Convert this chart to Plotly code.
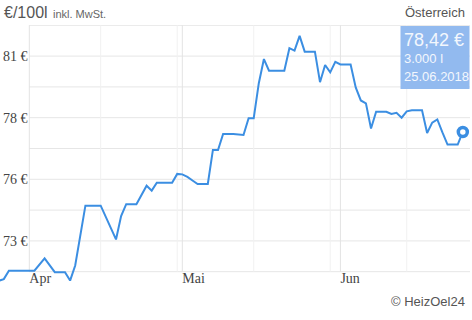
import plotly.graph_objects as go

# Data (€/100 l, Austria)
dates = ["2018-03-26", "2018-03-27", "2018-03-28", "2018-04-02", "2018-04-04",
         "2018-04-06", "2018-04-08", "2018-04-09", "2018-04-10", "2018-04-11",
         "2018-04-12", "2018-04-15", "2018-04-18", "2018-04-19", "2018-04-20",
         "2018-04-22", "2018-04-24", "2018-04-25", "2018-04-26", "2018-04-29",
         "2018-04-30", "2018-05-01", "2018-05-02", "2018-05-03", "2018-05-04",
         "2018-05-06", "2018-05-07", "2018-05-08", "2018-05-09", "2018-05-11",
         "2018-05-13", "2018-05-14", "2018-05-15", "2018-05-16", "2018-05-17",
         "2018-05-18", "2018-05-21", "2018-05-22", "2018-05-23", "2018-05-24",
         "2018-05-25", "2018-05-27", "2018-05-28", "2018-05-29", "2018-05-30",
         "2018-05-31", "2018-06-01", "2018-06-03", "2018-06-04", "2018-06-05",
         "2018-06-06", "2018-06-07", "2018-06-08", "2018-06-10", "2018-06-11",
         "2018-06-12", "2018-06-13", "2018-06-14", "2018-06-15", "2018-06-17",
         "2018-06-18", "2018-06-19", "2018-06-20", "2018-06-21", "2018-06-22",
         "2018-06-24", "2018-06-25"]
prices = [72.38, 72.45, 72.79, 72.79, 73.29,
          72.73, 72.73, 72.39, 73.00, 74.20,
          75.43, 75.43, 74.06, 75.01, 75.49,
          75.49, 76.24, 76.04, 76.36, 76.36,
          76.72, 76.70, 76.60, 76.45, 76.31,
          76.31, 77.69, 77.69, 78.34, 78.34,
          78.30, 78.98, 78.98, 80.40, 81.38,
          80.91, 80.91, 81.82, 81.72, 82.32,
          81.68, 81.68, 80.44, 81.14, 80.84,
          81.27, 81.16, 81.16, 80.23, 79.70,
          79.58, 78.56, 79.24, 79.24, 79.15,
          79.20, 79.00, 79.26, 79.30, 79.30,
          78.38, 78.80, 78.93, 78.40, 77.91,
          77.91, 78.42]

y_tickvals = [74.0, 76.5, 79.0, 81.5]
y_ticktext = ["73 €", "76 €", "78 €", "81 €"]
x_tickvals = ["2018-04-01", "2018-05-01", "2018-06-01"]
x_ticktext = ["Apr", "Mai", "Jun"]
grid_levels = [72.75 + 1.25 * k for k in range(9)]
minor_dates = ["2018-04-15", "2018-04-30", "2018-05-15", "2018-05-30", "2018-06-14"]

W, H = 472, 320
T, B = 25, 28
PH = H - T - B

def px(x):
    return x / W

def py(y):
    return (H - B - y) / PH

LINE = "#3b8ee2"
TXT = "#555555"

fig = go.Figure()
fig.add_trace(go.Scatter(x=dates, y=prices, mode="lines",
                         line=dict(color=LINE, width=2), hoverinfo="skip"))
fig.add_trace(go.Scatter(x=[dates[-1]], y=[prices[-1]], mode="markers",
                         marker=dict(size=9, color="white",
                                     line=dict(color=LINE, width=3.5)),
                         cliponaxis=False, hoverinfo="skip"))

shapes = []
for g in grid_levels:
    shapes.append(dict(type="line", xref="paper", yref="y", x0=px(29), x1=px(470),
                       y0=g, y1=g, line=dict(color="#e6e6e6", width=1), layer="below"))
for d in minor_dates:
    shapes.append(dict(type="line", xref="x", yref="y", x0=d, x1=d,
                       y0=72.75, y1=82.75, line=dict(color="#f1f1f1", width=1), layer="below"))
for d in x_tickvals:
    shapes.append(dict(type="line", xref="x", yref="y", x0=d, x1=d,
                       y0=72.75, y1=82.75, line=dict(color="#e3e3e3", width=1), layer="below"))
# tooltip box
shapes.append(dict(type="rect", xref="paper", yref="paper", x0=px(400.5), x1=px(469.5),
                   y0=py(89), y1=py(26), fillcolor="#92baef", line=dict(width=0), layer="above"))

annotations = [
    dict(text="€/100l", x=px(2), y=py(12), xanchor="left", yanchor="middle",
         font=dict(family="Liberation Sans", size=16, color=TXT)),
    dict(text="inkl. MwSt.", x=px(51), y=py(13.5), xanchor="left", yanchor="middle",
         font=dict(family="Liberation Sans", size=11, color="#666666")),
    dict(text="Österreich", x=px(467), y=py(13), xanchor="right", yanchor="middle",
         font=dict(family="Liberation Sans", size=13, color=TXT)),
    dict(text="78,42 €", x=px(402), y=py(40), xanchor="left", yanchor="middle",
         font=dict(family="Liberation Sans", size=18, color="#f3f7fd")),
    dict(text="3.000 l", x=px(402), y=py(58.5), xanchor="left", yanchor="middle",
         font=dict(family="Liberation Sans", size=13, color="#f3f7fd")),
    dict(text="25.06.2018", x=px(402), y=py(76), xanchor="left", yanchor="middle",
         font=dict(family="Liberation Sans", size=13, color="#f3f7fd")),
    dict(text="© HeizOel24", x=px(467), y=py(301), xanchor="right", yanchor="middle",
         font=dict(family="Liberation Sans", size=13, color=TXT)),
]
for a in annotations:
    a.update(xref="paper", yref="paper", showarrow=False)

fig.update_layout(
    width=W, height=H,
    margin=dict(l=0, r=0, t=T, b=B, pad=0),
    paper_bgcolor="white", plot_bgcolor="white",
    showlegend=False,
    shapes=shapes, annotations=annotations,
    xaxis=dict(range=["2018-03-26 06:07", "2018-06-26 19:12"], type="date",
               tickvals=x_tickvals, ticktext=x_ticktext, showgrid=False,
               zeroline=False, showline=False, ticks="",
               ticklabelposition="inside right",
               tickfont=dict(family="Liberation Serif", size=14, color="#444444")),
    yaxis=dict(range=[71.926, 82.762], tickvals=y_tickvals, ticktext=y_ticktext,
               showgrid=False, zeroline=False, showline=False, ticks="",
               ticklabelposition="inside",
               tickfont=dict(family="Liberation Serif", size=14, color="#444444")),
)

fig.write_html("out.html")
